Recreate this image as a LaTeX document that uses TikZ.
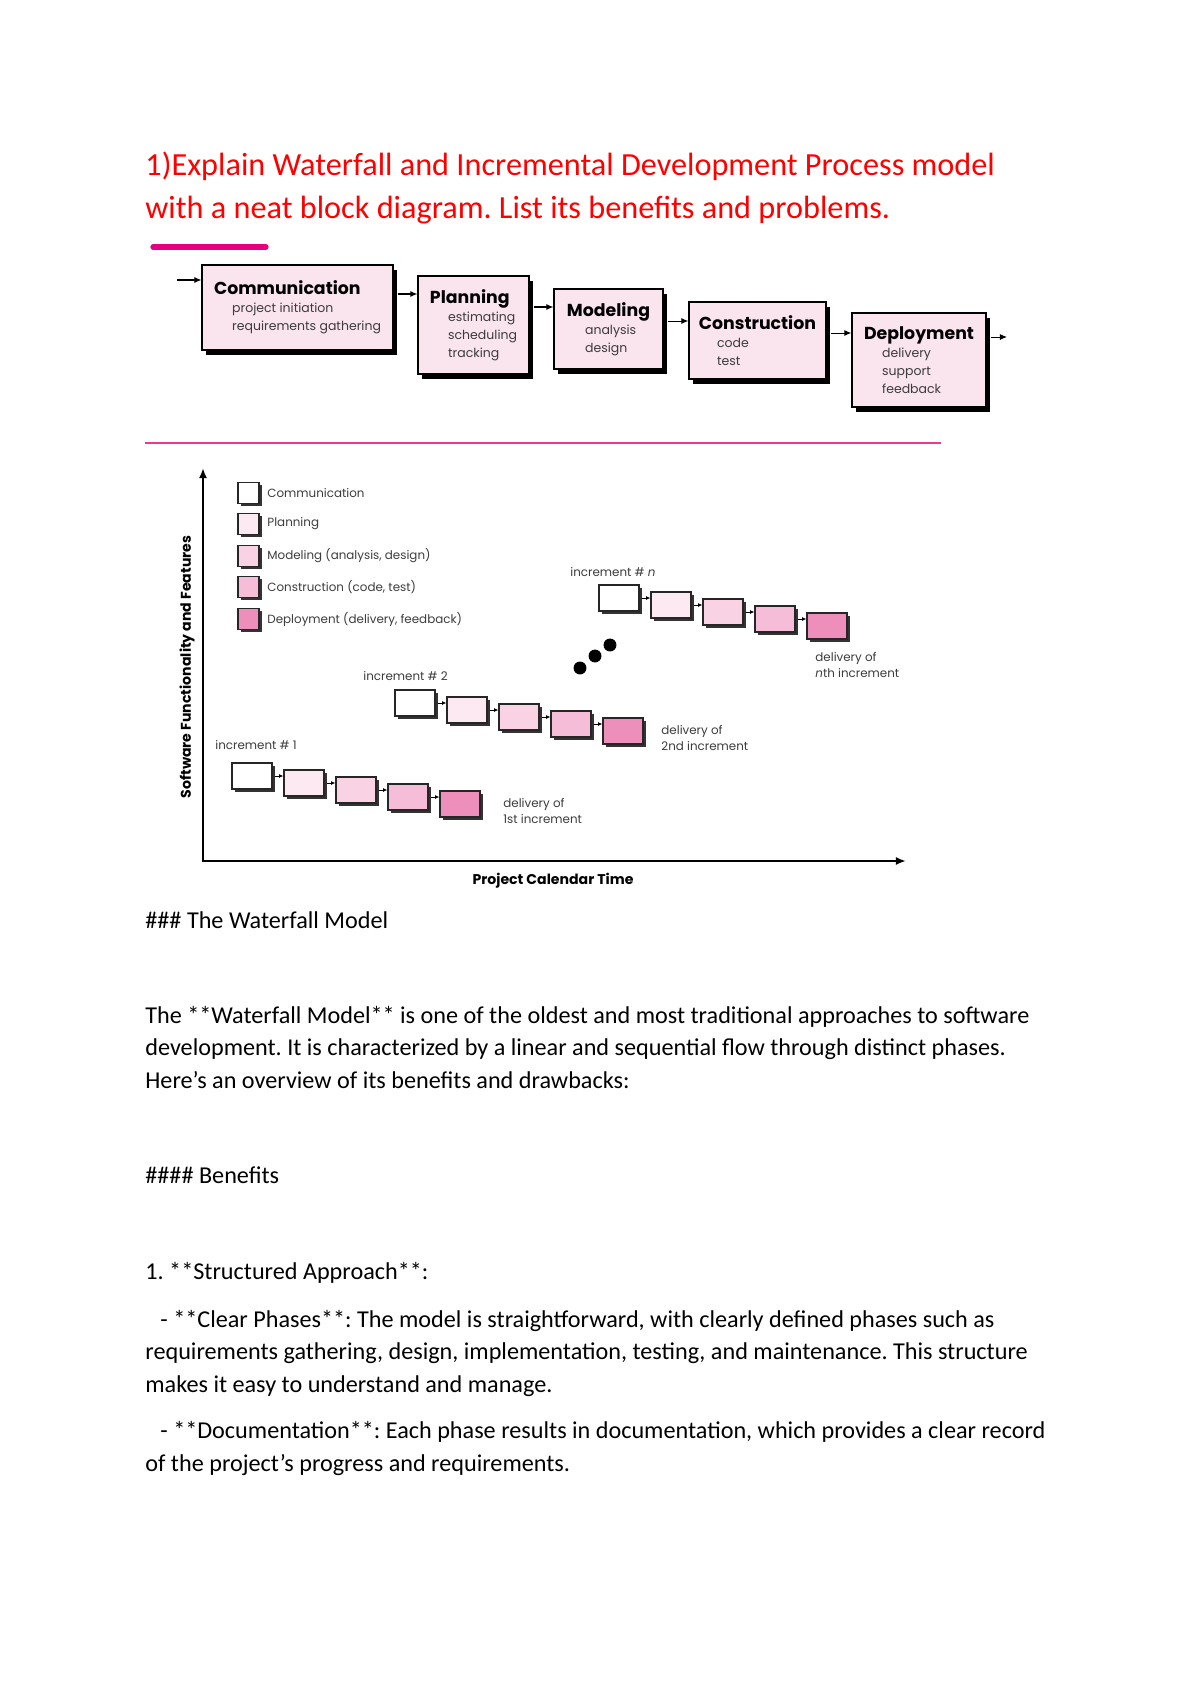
\documentclass[tikz,border=0pt]{standalone}
\usepackage{fontspec}
\setmainfont{Carlito}
\newfontfamily\futura{Poppins}
\usetikzlibrary{arrows.meta, positioning, shadows, calc}
\frenchspacing
\definecolor{titlered}{RGB}{255,0,0}
\definecolor{rulepink}{RGB}{233,60,140}
\definecolor{barpink}{RGB}{230,0,126}
\definecolor{boxpink}{RGB}{250,228,238}
\definecolor{planpink}{RGB}{253,233,242}
\definecolor{modpink}{RGB}{249,211,228}
\definecolor{conpink}{RGB}{245,189,215}
\definecolor{deppink}{RGB}{238,143,187}
\definecolor{inkgray}{RGB}{60,60,60}
\newcommand{\phasetitle}[1]{{\fontsize{8.6}{9}\selectfont\bfseries\color{black}#1}}
\newcommand{\phind}{\hspace*{9pt}}

\begin{document}
\begin{tikzpicture}[x=0.49606pt, y=-0.49606pt, >={Latex[length=3.5pt, width=3pt]},
  phase/.style={draw=black, line width=0.6pt, fill=boxpink, align=left, inner sep=0pt,
    font=\futura\fontsize{6.2}{9}\selectfont, text=inkgray,
    drop shadow={shadow xshift=2.2pt, shadow yshift=-2.4pt, fill=black, opacity=1}},
  inc/.style={draw=black!85, line width=0.6pt, minimum width=19.8pt, minimum height=12.9pt,
    inner sep=0pt, drop shadow={shadow xshift=1.4pt, shadow yshift=-1.4pt, fill=black!80, opacity=1}},
  key/.style={inc, minimum width=10.4pt, minimum height=10.4pt},
  lbl/.style={font=\futura\fontsize{5.9}{8.2}\selectfont, text=inkgray, inner sep=0pt, align=left},
  flow/.style={->, line width=0.5pt, shorten <=2pt},
  tick/.style={-{Latex[length=2.2pt, width=2pt]}, line width=0.5pt, shorten <=1.2pt},
  body/.style={anchor=base west, inner sep=0pt, font=\fontsize{12}{14}\selectfont}]
\useasboundingbox (0,0) rectangle (1200,1696);

% question
\node[anchor=base west, inner sep=0pt, text=titlered, font=\fontsize{16}{19}\selectfont] (q1) at (145,175)
  {1)Explain Waterfall and Incremental Development Process model};
\node[anchor=base west, inner sep=0pt, text=titlered, font=\fontsize{16}{19}\selectfont] (q2) at (145,218)
  {with a neat block diagram. List its benefits and problems.};
\draw[barpink, line width=2.6pt, line cap=round] (153,247) -- (266,247);

% waterfall
\node[phase, minimum width=94.7pt, minimum height=42.2pt] (comm) at (297.5,307.5)
  {\phasetitle{Communication}\\\phind project initiation\\\phind requirements gathering};
\node[phase, minimum width=55.1pt, minimum height=48.6pt] (plan) at (473.5,325)
  {\phasetitle{Planning}\\\phind estimating\\\phind scheduling\\\phind tracking};
\node[phase, minimum width=54.1pt, minimum height=39.7pt] (mod) at (608.5,329)
  {\phasetitle{Modeling}\\\phind analysis\\\phind design};
\node[phase, minimum width=68pt, minimum height=38.2pt] (cons) at (757.5,340.5)
  {\phasetitle{Construction}\\\phind code\\\phind test};
\node[phase, minimum width=66.5pt, minimum height=46.6pt] (dep) at (919,360)
  {\phasetitle{Deployment}\\\phind delivery\\\phind support\\\phind feedback};
\coordinate (in) at (177,280);
\coordinate (out) at (1007,337);
\draw[flow, shorten <=0pt] (in) -- (in -| comm.west);
\draw[flow] (comm.east |- 0,294) -- (plan.west |- 0,294);
\draw[flow] (plan.east |- 0,307) -- (mod.west |- 0,307);
\draw[flow] (mod.east |- 0,321) -- (cons.west |- 0,321);
\draw[flow] (cons.east |- 0,333) -- (dep.west |- 0,333);
\draw[flow] (dep.east |- out) -- (out);

\draw[rulepink, line width=0.7pt] (145,443) -- (941,443);

% incremental model
\coordinate (origin) at (203,861);
\coordinate (ytop) at (203,468);
\coordinate (xend) at (906,861);
\draw[{Latex[length=5pt, width=4pt]}-{Latex[length=5pt, width=4pt]}, line width=1.4pt] (ytop) -- (origin) -- (xend);
\node[font=\futura\bfseries\fontsize{7}{8}\selectfont] (xlab) at (553,881) {Project Calendar Time};
\node[rotate=90, font=\futura\bfseries\fontsize{7}{8}\selectfont] (ylab) at (187,667) {Software Functionality and Features};

\node[key, fill=white] (k1) at (248.5,493) {};
\node[key, fill=planpink] (k2) at (248.5,524) {};
\node[key, fill=modpink] (k3) at (248.5,556) {};
\node[key, fill=conpink] (k4) at (248.5,587) {};
\node[key, fill=deppink] (k5) at (248.5,619) {};
\node[lbl, anchor=west] (t1) at (267,493) {Communication};
\node[lbl, anchor=west] (t2) at (267,524) {Planning};
\node[lbl, anchor=west] (t3) at (267,556) {Modeling (analysis, design)};
\node[lbl, anchor=west] (t4) at (267,587) {Construction (code, test)};
\node[lbl, anchor=west] (t5) at (267,619) {Deployment (delivery, feedback)};

% increment 1
\node[lbl, anchor=west] (inc1) at (215,745) {increment \# 1};
\node[inc, fill=white] (a1) at (252,776) {};
\node[inc, fill=planpink] (a2) at (304,783) {};
\node[inc, fill=modpink] (a3) at (356,790) {};
\node[inc, fill=conpink] (a4) at (408,797) {};
\node[inc, fill=deppink] (a5) at (460,804) {};
\draw[tick] (a1.east) -- (a1.east -| a2.west);
\draw[tick] (a2.east) -- (a2.east -| a3.west);
\draw[tick] (a3.east) -- (a3.east -| a4.west);
\draw[tick] (a4.east) -- (a4.east -| a5.west);
\node[lbl, anchor=west] (del1) at (503,811) {delivery of\\1st increment};

% increment 2
\node[lbl, anchor=west] (inc2) at (363,676) {increment \# 2};
\node[inc, fill=white] (b1) at (415,703) {};
\node[inc, fill=planpink] (b2) at (467,710) {};
\node[inc, fill=modpink] (b3) at (519,717) {};
\node[inc, fill=conpink] (b4) at (571,724) {};
\node[inc, fill=deppink] (b5) at (623,731) {};
\draw[tick] (b1.east) -- (b1.east -| b2.west);
\draw[tick] (b2.east) -- (b2.east -| b3.west);
\draw[tick] (b3.east) -- (b3.east -| b4.west);
\draw[tick] (b4.east) -- (b4.east -| b5.west);
\node[lbl, anchor=west] (del2) at (661,738) {delivery of\\2nd increment};

\fill (580,668) circle (3.2pt);
\fill (595,656) circle (3.2pt);
\fill (610,645) circle (3.2pt);

% increment n
\node[lbl, anchor=west] (incn) at (570,572) {increment \# \textit{n}};
\node[inc, fill=white] (c1) at (619,598) {};
\node[inc, fill=planpink] (c2) at (671,605) {};
\node[inc, fill=modpink] (c3) at (723,612) {};
\node[inc, fill=conpink] (c4) at (775,619) {};
\node[inc, fill=deppink] (c5) at (827,626) {};
\draw[tick] (c1.east) -- (c1.east -| c2.west);
\draw[tick] (c2.east) -- (c2.east -| c3.west);
\draw[tick] (c3.east) -- (c3.east -| c4.west);
\draw[tick] (c4.east) -- (c4.east -| c5.west);
\node[lbl, anchor=west] (deln) at (815,665) {delivery of\\\textit{n}th increment};

% answer text
\node[body] (h1) at (145,928) {\#\#\# The Waterfall Model};
\node[body] (p1) at (145,1023) {The **Waterfall Model** is one of the oldest and most traditional approaches to software};
\node[body] (p2) at (145,1055) {development. It is characterized by a linear and sequential flow through distinct phases.};
\node[body] (p3) at (145,1088) {Here’s an overview of its benefits and drawbacks:};
\node[body] (h2) at (145,1183) {\#\#\#\# Benefits};
\node[body] (l1) at (145,1279) {1. **Structured Approach**:};
\node[body] (l2) at (160,1327) {- **Clear Phases**: The model is straightforward, with clearly defined phases such as};
\node[body] (l3) at (145,1359) {requirements gathering, design, implementation, testing, and maintenance. This structure};
\node[body] (l4) at (145,1392) {makes it easy to understand and manage.};
\node[body] (l5) at (160,1438) {- **Documentation**: Each phase results in documentation, which provides a clear record};
\node[body] (l6) at (145,1471) {of the project’s progress and requirements.};
\end{tikzpicture}
\end{document}
